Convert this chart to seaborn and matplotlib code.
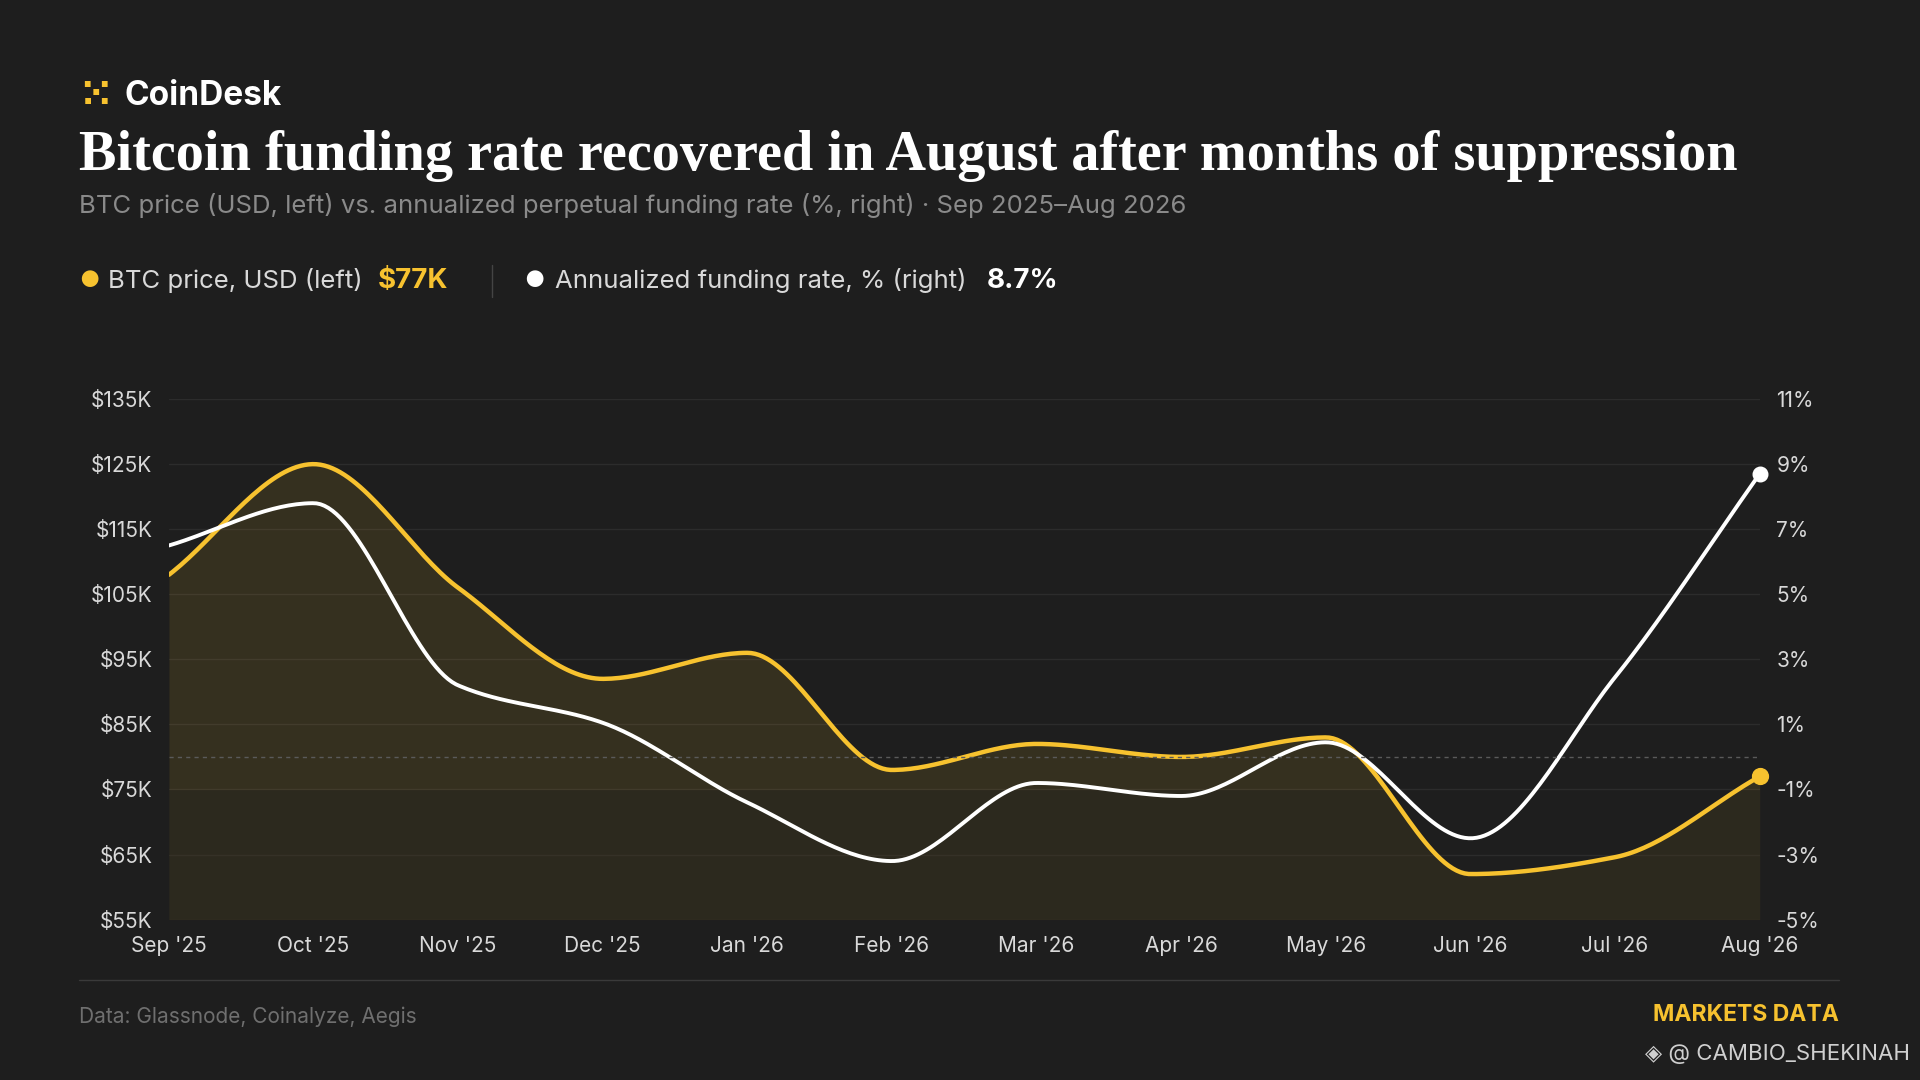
import numpy as np
import pandas as pd
import matplotlib
matplotlib.use("Agg")
import matplotlib.pyplot as plt
import seaborn as sns

BG = "#1e1e1e"
GOLD = "#f7c22f"
GRID = "#2c2c2c"
TXT = "#d9d9d9"
MUTED = "#8a8a8a"

months = ["Sep '25", "Oct '25", "Nov '25", "Dec '25", "Jan '26", "Feb '26",
          "Mar '26", "Apr '26", "May '26", "Jun '26", "Jul '26", "Aug '26"]
price_k = [108, 125, 106, 92, 96, 78, 82, 80, 83, 62, 64.6, 77]
funding = [6.5, 7.8, 2.2, 1.05, -1.4, -3.2, -0.8, -1.2, 0.45, -2.5, 2.45, 8.7]

df = pd.DataFrame({"m": np.arange(12), "month": months, "price": price_k, "funding": funding})


# monotone cubic (pchip) for the smooth line look
def pchip(x, y, n=400):
    x = np.asarray(x, float); y = np.asarray(y, float)
    h = np.diff(x); d = np.diff(y) / h
    m = np.zeros_like(y)
    for k in range(1, len(y) - 1):
        if d[k - 1] * d[k] > 0:
            w1 = 2 * h[k] + h[k - 1]; w2 = h[k] + 2 * h[k - 1]
            m[k] = (w1 + w2) / (w1 / d[k - 1] + w2 / d[k])
    m[0] = d[0]; m[-1] = d[-1]
    xs = np.linspace(x[0], x[-1], n)
    idx = np.clip(np.searchsorted(x, xs) - 1, 0, len(x) - 2)
    t = (xs - x[idx]) / h[idx]
    h00 = 2*t**3 - 3*t**2 + 1; h10 = t**3 - 2*t**2 + t
    h01 = -2*t**3 + 3*t**2; h11 = t**3 - t**2
    ys = h00*y[idx] + h10*h[idx]*m[idx] + h01*y[idx+1] + h11*h[idx]*m[idx+1]
    return xs, ys


sns.set_theme(style="dark")
plt.rcParams["font.family"] = ["Inter", "DejaVu Sans"]

fig = plt.figure(figsize=(19.2, 10.8), dpi=100, facecolor=BG)
ax = fig.add_axes([0.088, 0.1485, 0.8285, 0.482], facecolor=BG)
ax2 = ax.twinx()

xs, ps = pchip(df["m"], df["price"])
_, fs = pchip(df["m"], df["funding"])
smooth = pd.DataFrame({"x": xs, "price": ps, "funding": fs})

# fading fill under the price line
ax.fill_between(xs, ps, 55, color=GOLD, alpha=0.11, lw=0)
ax.fill_between(xs, np.minimum(ps, 75), 55, color=BG, alpha=0.35, lw=0)
sns.lineplot(data=smooth, x="x", y="price", ax=ax, color=GOLD, lw=3.2)
sns.lineplot(data=smooth, x="x", y="funding", ax=ax2, color="white", lw=2.8)
ax.scatter([11], [price_k[-1]], color=GOLD, s=130, zorder=5, clip_on=False)
ax2.scatter([11], [funding[-1]], color="white", s=110, zorder=5, clip_on=False)
ax2.axhline(0, color="#5a5a5a", lw=1, ls=(0, (3, 3)))

ax.set_xlim(0, 11)
ax.set_ylim(55, 135)
ax2.set_ylim(-5, 11)
ax.set_yticks(range(55, 136, 10))
ax.set_yticklabels([f"${v}K" for v in range(55, 136, 10)])
ax2.set_yticks(range(-5, 12, 2))
ax2.set_yticklabels([f"{v}%" for v in range(-5, 12, 2)])
ax.set_xticks(df["m"])
ax.set_xticklabels(months)
for a in (ax, ax2):
    a.set_xlabel(""); a.set_ylabel("")
    a.tick_params(colors=TXT, labelsize=15, length=0, pad=12)
    for s in a.spines.values():
        s.set_visible(False)
    a.grid(False)
for v in range(55, 136, 10):
    ax.axhline(v, color=GRID, lw=1, zorder=0)
ax2.set_zorder(ax.get_zorder() + 1)
ax2.patch.set_visible(False)

# header
fig.text(0.041, 0.911, "⁙", color=GOLD, fontsize=28, fontweight="bold", va="center")
fig.text(0.065, 0.911, "CoinDesk", color="white", fontsize=24, fontweight="bold", va="center")
fig.text(0.041, 0.856, "Bitcoin funding rate recovered in August after months of suppression",
         color="white", fontsize=40.5, fontweight="bold", family=["Liberation Serif", "DejaVu Serif"], va="center")
fig.text(0.041, 0.810, "BTC price (USD, left) vs. annualized perpetual funding rate (%, right) · Sep 2025–Aug 2026",
         color=MUTED, fontsize=18.5, va="center")

# legend row
y = 0.740
fig.text(0.041, y, "●", color=GOLD, fontsize=16, va="center")
fig.text(0.056, y, "BTC price, USD (left)", color=TXT, fontsize=18.5, va="center")
fig.text(0.197, y, "$77K", color=GOLD, fontsize=20, fontweight="bold", va="center")
fig.add_artist(plt.Line2D([0.256, 0.256], [0.725, 0.755], color="#444444", lw=1))
fig.text(0.273, y, "●", color="white", fontsize=16, va="center")
fig.text(0.289, y, "Annualized funding rate, % (right)", color=TXT, fontsize=18.5, va="center")
fig.text(0.514, y, "8.7%", color="white", fontsize=20, fontweight="bold", va="center")

# footer
fig.add_artist(plt.Line2D([0.041, 0.958], [0.093, 0.093], color="#3a3a3a", lw=1))
fig.text(0.041, 0.059, "Data: Glassnode, Coinalyze, Aegis", color="#6f6f6f", fontsize=15, va="center")
fig.text(0.958, 0.060, "MARKETS DATA", color=GOLD, fontsize=16.5, fontweight="bold", ha="right", va="center")
fig.text(0.995, 0.024, "◈ @ CAMBIO_SHEKINAH", color="#cfcfcf", fontsize=16, ha="right", va="center")

fig.savefig("out.png", dpi=100, facecolor=BG)
